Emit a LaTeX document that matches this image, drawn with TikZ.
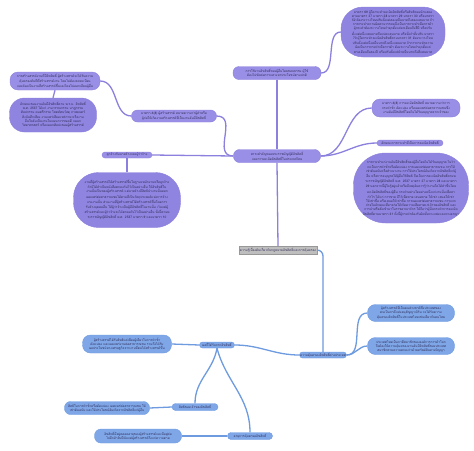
\documentclass[tikz,border=0pt]{standalone}
\usepackage{fontspec}
\usetikzlibrary{backgrounds}
\newfontfamily\thai[Script=Thai]{Loma}
\XeTeXlinebreaklocale "th"
\XeTeXlinebreakskip=0pt
\definecolor{pfill}{HTML}{9A8FE6}
\definecolor{pdark}{HTML}{8F84E0}
\definecolor{pline}{HTML}{8B80DD}
\definecolor{bfill}{HTML}{7FA7E8}
\definecolor{bline}{HTML}{6E9BE0}
\definecolor{gfill}{HTML}{BEBEBE}
\definecolor{txt}{HTML}{2E2A55}
\tikzset{
  base/.style={inner sep=0pt, align=center, font=\thai\fontsize{3.2}{4.0}\selectfont, text=txt},
  pbox/.style={base, fill=pfill, draw=pline, line width=0.4pt},
  pbig/.style={base, fill=pdark, draw=pline, line width=0.4pt},
  bbox/.style={base, fill=bfill, draw=bline, line width=0.4pt},
  gbox/.style={base, fill=gfill, draw=gfill!80!black, line width=0.3pt},
  plink/.style={draw=pline, line width=1.3pt},
  blink/.style={draw=bline, line width=1.3pt}
}
\begin{document}
\begin{tikzpicture}[x=1pt,y=-1pt]
\useasboundingbox (0,0) rectangle (474,450);

% purple part
\node[gbox, minimum width=78, minimum height=8] (root) at (278,250) {ความรู้เบื้องต้นเกี่ยวกับกฎหมายลิขสิทธิ์และการคุ้มครอง};
\node[pbox, minimum width=87, minimum height=13, text width=80, rounded corners=6] (C) at (277,156) {สาระสำคัญของพระราชบัญญัติลิขสิทธิ์และการละเมิดลิขสิทธิ์ในประเทศไทย};
\node[pbox, minimum width=88, minimum height=13, text width=80, rounded corners=6] (T) at (277,73) {การใช้งานลิขสิทธิ์ของผู้อื่นโดยชอบธรรม ผู้ใช้ต้องไม่ขัดต่อการแสวงหาประโยชน์ตามปกติ};
\node[pbig, minimum width=104, minimum height=50, text width=86, rounded corners=22] (TR) at (393,32) {มาตรา 69 ผู้ใดกระทำละเมิดลิขสิทธิ์หรือสิทธิของนักแสดงตามมาตรา 27 มาตรา 28 มาตรา 29 มาตรา 30 หรือมาตรา 52 ต้องระวางโทษปรับตั้งแต่สองหมื่นบาทถึงสองแสนบาท ถ้าการกระทำความผิดตามวรรคหนึ่งเป็นการกระทำเพื่อการค้า ผู้กระทำต้องระวางโทษจำคุกตั้งแต่หกเดือนถึงสี่ปี หรือปรับตั้งแต่หนึ่งแสนบาทถึงแปดแสนบาท หรือทั้งจำทั้งปรับ มาตรา 70 ผู้ใดกระทำละเมิดลิขสิทธิ์ตามมาตรา 31 ต้องระวางโทษปรับตั้งแต่หนึ่งหมื่นบาทถึงหนึ่งแสนบาท ถ้าการกระทำความผิดเป็นการกระทำเพื่อการค้า ต้องระวางโทษจำคุกตั้งแต่สามเดือนถึงสองปี หรือปรับตั้งแต่ห้าหมื่นบาทถึงสี่แสนบาท};
\node[pbox, minimum width=88, minimum height=18, text width=80, rounded corners=8] (R1) at (416,108) {มาตรา 4(8) การละเมิดลิขสิทธิ์ หมายความว่าการกระทำซ้ำ ดัดแปลง หรือเผยแพร่ต่อสาธารณชนซึ่งงานอันมีลิขสิทธิ์โดยไม่ได้รับอนุญาตจากเจ้าของ};
\node[pbox, minimum width=66, minimum height=6, rounded corners=3] (R2) at (410,143) {ลักษณะการกระทำที่เป็นการละเมิดลิขสิทธิ์};
\node[pbig, minimum width=115, minimum height=70, text width=96, rounded corners=32] (R3) at (411,188) {การกระทำแก่งานอันมีลิขสิทธิ์ของผู้อื่นโดยไม่ได้รับอนุญาต ไม่ว่าจะเป็นการทำซ้ำหรือดัดแปลง การเผยแพร่ต่อสาธารณชน การให้เช่าต้นฉบับหรือสำเนางาน การให้ประโยชน์อันเกิดจากลิขสิทธิ์แก่ผู้อื่น หรือการอนุญาตให้ผู้อื่นใช้สิทธิ ถือเป็นการละเมิดลิขสิทธิ์ตามพระราชบัญญัติลิขสิทธิ์ พ.ศ. 2537 มาตรา 27 มาตรา 28 และมาตรา 29 นอกจากนี้ผู้ใดรู้อยู่แล้วหรือมีเหตุอันควรรู้ว่างานใดได้ทำขึ้นโดยละเมิดลิขสิทธิ์ของผู้อื่น กระทำอย่างใดอย่างหนึ่งแก่งานนั้นเพื่อหากำไร ได้แก่ การขาย มีไว้เพื่อขาย เสนอขาย ให้เช่า เสนอให้เช่า ให้เช่าซื้อ หรือเสนอให้เช่าซื้อ การเผยแพร่ต่อสาธารณชน การแจกจ่ายในลักษณะที่อาจก่อให้เกิดความเสียหายแก่เจ้าของลิขสิทธิ์ และการนำหรือสั่งเข้ามาในราชอาณาจักร ให้ถือว่าผู้นั้นกระทำการละเมิดลิขสิทธิ์ตามมาตรา 31 ทั้งนี้ผู้กระทำต้องรับผิดทั้งทางแพ่งและทางอาญา};
\node[pbox, minimum width=85, minimum height=12, text width=78, rounded corners=6] (L1) at (174,116) {มาตรา 4(8) ผู้สร้างสรรค์ หมายความว่าผู้ทำหรือผู้ก่อให้เกิดงานสร้างสรรค์ที่เป็นงานอันมีลิขสิทธิ์};
\node[pbox, minimum width=90, minimum height=18, text width=82, rounded corners=8] (L1a) at (55,81) {การสร้างสรรค์งานที่มีลิขสิทธิ์ ผู้สร้างสรรค์จะได้รับความคุ้มครองทันทีที่สร้างสรรค์งาน โดยไม่ต้องจดทะเบียน และต้องเป็นงานที่สร้างสรรค์ขึ้นเองโดยไม่ลอกเลียนผู้อื่น};
\node[pbig, minimum width=87, minimum height=34, text width=76, rounded corners=15] (L1b) at (53,115) {ลักษณะของงานอันมีลิขสิทธิ์ตาม พ.ร.บ. ลิขสิทธิ์ พ.ศ. 2537 ได้แก่ งานวรรณกรรม นาฏกรรม ศิลปกรรม ดนตรีกรรม โสตทัศนวัสดุ ภาพยนตร์ สิ่งบันทึกเสียง งานแพร่เสียงแพร่ภาพ หรืองานอื่นใดอันเป็นงานในแผนกวรรณคดี แผนกวิทยาศาสตร์ หรือแผนกศิลปะของผู้สร้างสรรค์};
\node[pbox, minimum width=50, minimum height=6, rounded corners=3] (L2) at (127,155) {ลูกจ้างกับนายจ้างและผู้ว่าจ้าง};
\node[pbig, minimum width=107, minimum height=55, text width=92, rounded corners=25] (L2a) at (127,200) {งานที่ผู้สร้างสรรค์ได้สร้างสรรค์ขึ้นในฐานะพนักงานหรือลูกจ้าง ถ้ามิได้ทำเป็นหนังสือตกลงกันไว้เป็นอย่างอื่น ให้ลิขสิทธิ์ในงานนั้นเป็นของผู้สร้างสรรค์ แต่นายจ้างมีสิทธินำงานนั้นออกเผยแพร่ต่อสาธารณชนได้ตามที่เป็นวัตถุประสงค์แห่งการจ้างแรงงานนั้น ส่วนงานที่ผู้สร้างสรรค์ได้สร้างสรรค์ขึ้นโดยการรับจ้างบุคคลอื่น ให้ผู้ว่าจ้างเป็นผู้มีลิขสิทธิ์ในงานนั้น เว้นแต่ผู้สร้างสรรค์และผู้ว่าจ้างจะได้ตกลงกันไว้เป็นอย่างอื่น ทั้งนี้ตามพระราชบัญญัติลิขสิทธิ์ พ.ศ. 2537 มาตรา 9 และมาตรา 10};

% blue part
\node[bbox, minimum width=47, minimum height=6, rounded corners=3] (B1) at (323,355) {ความคุ้มครองลิขสิทธิ์ต่างประเทศ};
\node[bbox, minimum width=87, minimum height=17, text width=80, rounded corners=8] (B1a) at (411,313) {ผู้สร้างสรรค์ที่เป็นคนต่างชาติซึ่งประเทศของตนเป็นภาคีแห่งอนุสัญญาเบิร์น จะได้รับความคุ้มครองลิขสิทธิ์ในประเทศไทยเช่นเดียวกับคนไทย};
\node[bbox, minimum width=87, minimum height=17, text width=80, rounded corners=8] (B1b) at (411,346) {ประเทศไทยเป็นภาคีสมาชิกขององค์การการค้าโลก จึงต้องให้ความคุ้มครองงานอันมีลิขสิทธิ์ของประเทศสมาชิกตามความตกลงว่าด้วยทรัพย์สินทางปัญญา};
\node[bbox, minimum width=35, minimum height=6, rounded corners=3] (B2) at (217,345) {ผลที่ได้รับจากลิขสิทธิ์};
\node[bbox, minimum width=89, minimum height=18, text width=82, rounded corners=8] (B2a) at (127,344) {ผู้สร้างสรรค์ได้รับสิทธิแต่เพียงผู้เดียวในการทำซ้ำ ดัดแปลง และเผยแพร่งานต่อสาธารณชน รวมถึงได้รับผลประโยชน์ทางเศรษฐกิจจากงานที่ตนได้สร้างสรรค์ขึ้น};
\node[bbox, minimum width=46, minimum height=7, rounded corners=3.5] (B3) at (195,407) {สิทธิของเจ้าของลิขสิทธิ์};
\node[bbox, minimum width=85, minimum height=13, text width=78, rounded corners=6] (B3a) at (107,408) {สิทธิในการทำซ้ำหรือดัดแปลง เผยแพร่ต่อสาธารณชน ให้เช่าต้นฉบับ และให้ประโยชน์อันเกิดจากลิขสิทธิ์แก่ผู้อื่น};
\node[bbox, minimum width=45, minimum height=7, rounded corners=3.5] (B4) at (250,436) {อายุการคุ้มครองลิขสิทธิ์};
\node[bbox, minimum width=87, minimum height=14, text width=80, rounded corners=6.5] (B4a) at (138,436) {ลิขสิทธิ์มีอยู่ตลอดอายุของผู้สร้างสรรค์และมีอยู่ต่อไปอีกห้าสิบปีนับแต่ผู้สร้างสรรค์ถึงแก่ความตาย};

\begin{scope}[on background layer]
\fill[white] (0,0) rectangle (474,450);
% purple links
\path[plink] (C.south) -- (root.north);
\path[plink] (T.south) -- (C.north);
\path[plink] (T.east) to[out=0,in=180,looseness=0.9] (TR.west);
\path[plink] (C.east) to[out=0,in=180] (R1.west);
\path[plink] (C.east) to[out=0,in=180] (R2.west);
\path[plink] (L1.east) to[out=0,in=180,looseness=1.3] (C.west);
\path[plink] (L2.east) -- (C.west);
\path[plink] (L1a.east) to[out=0,in=180] (L1.west);
\path[plink] (L1a.south) -- (L1b.north);
\path[plink] (L2.south) -- (L2a.north);
% blue links
\path[blink, rounded corners=6] (root.east) -| (B1.north);
\path[blink] (B1.east) to[out=0,in=180] (B1a.west);
\path[blink] (B1.east) to[out=0,in=180] (B1b.west);
\path[blink] (B1.west) to[out=180,in=0] (B2.east);
\path[blink] (B2a.east) -- (B2.west);
\path[blink] (B2.south) to[out=-100,in=90] (B3.north);
\path[blink] (B2.south) to[out=-75,in=90] (B4.north);
\path[blink] (B3a.east) -- (B3.west);
\path[blink] (B4a.east) -- (B4.west);
\end{scope}
\end{tikzpicture}
\end{document}
